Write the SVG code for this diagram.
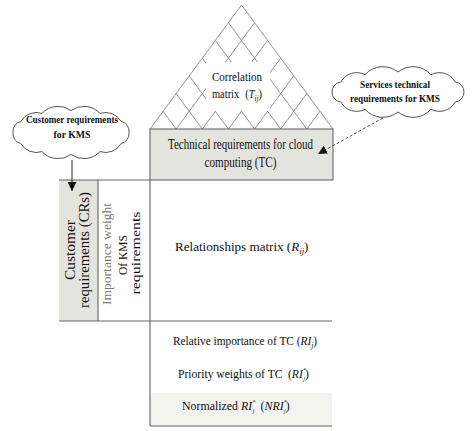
<svg xmlns="http://www.w3.org/2000/svg" width="474" height="431" viewBox="0 0 474 431">
<style>
text{font-family:"Liberation Serif","Times New Roman",serif;fill:#111}
.b{font-weight:bold}
.ln{stroke:#666;stroke-width:1.1;fill:none}
.lat{stroke:#7a7a7a;stroke-width:0.8;fill:none}
.cloud{fill:#fff;stroke:#555;stroke-width:1}
.i{font-style:italic}
</style>
<defs>
<marker id="ah" viewBox="0 0 10 10" refX="10" refY="5" markerWidth="9" markerHeight="9" markerUnits="userSpaceOnUse" orient="auto">
<path d="M0,0 L10,5 L0,10 Z" fill="#111"/>
</marker>
</defs>
<rect width="474" height="431" fill="#fff"/>

<g id="roof">
<path class="lat" d="M150,129 L241.5,5 L333,129"/>
<path class="lat" d="M163.07,111.29 L176.14,129 L254.57,22.71 M176.14,93.57 L202.29,129 L267.64,40.43 M189.21,75.86 L228.43,129 L280.71,58.14 M202.29,58.14 L254.57,129 L293.79,75.86 M215.36,40.43 L280.71,129 L306.86,93.57 M228.43,22.71 L306.86,129 L319.93,111.29"/>
<rect x="206" y="62" width="64" height="49" fill="#fff"/>
<text x="237" y="81" font-size="12" text-anchor="middle" textLength="50" lengthAdjust="spacingAndGlyphs">Correlation</text>
<text transform="translate(212,98) scale(0.87,1)" font-size="12">matrix <tspan dx="4">(</tspan><tspan class="i">T</tspan><tspan class="i" font-size="8" dy="3">ij</tspan><tspan dy="-3">)</tspan></text>
</g>

<g id="tc">
<rect x="150" y="129" width="183" height="51" fill="#e4e4df" stroke="#666" stroke-width="1.1"/>
<text x="240.5" y="149" font-size="14" text-anchor="middle" textLength="145" lengthAdjust="spacingAndGlyphs">Technical requirements for cloud</text>
<text x="240.5" y="167" font-size="14" text-anchor="middle" textLength="72" lengthAdjust="spacingAndGlyphs">computing (TC)</text>
</g>

<g id="crs">
<rect x="59" y="180" width="39" height="141" fill="#e4e4df"/>
<text transform="translate(75,250) rotate(-90)" font-size="14.5" text-anchor="middle" textLength="60" lengthAdjust="spacingAndGlyphs">Customer</text>
<text transform="translate(88.5,250) rotate(-90)" font-size="14.5" text-anchor="middle" textLength="116" lengthAdjust="spacingAndGlyphs">requirements (CRs)</text>
</g>

<g id="weight">
<text transform="translate(110.5,254) rotate(-90)" font-size="13.5" text-anchor="middle" style="fill:#7a7a7a" textLength="102" lengthAdjust="spacingAndGlyphs">Importance weight</text>
<text transform="translate(126.5,255) rotate(-90)" font-size="13.5" text-anchor="middle" textLength="40" lengthAdjust="spacingAndGlyphs">Of KMS</text>
<text transform="translate(139.5,253) rotate(-90)" font-size="13.5" text-anchor="middle" textLength="83" lengthAdjust="spacingAndGlyphs">requirements</text>
</g>

<g id="relmatrix">
<text transform="translate(175,251) scale(0.97,1)" font-size="13.5">Relationships matrix (<tspan class="i">R</tspan><tspan class="i" font-size="9" dy="3">ij</tspan><tspan dy="-3">)</tspan></text>
</g>

<g id="bottom">
<rect x="150" y="393" width="182" height="33" fill="#f3f3f0"/>
<text transform="translate(173,345) scale(0.84,1)" font-size="13.5">Relative importance of TC (<tspan class="i">RI</tspan><tspan class="i" font-size="9" dy="3">j</tspan><tspan dy="-3">)</tspan></text>
<text transform="translate(178,378) scale(0.86,1)" font-size="13.5">Priority weights of TC <tspan dx="3">(</tspan><tspan class="i">RI</tspan><tspan class="i" font-size="7" dy="-6">*</tspan><tspan class="i" font-size="7" dx="-3" dy="9">j</tspan><tspan dy="-3">)</tspan></text>
<text transform="translate(182,410) scale(0.88,1)" font-size="13.5">Normalized <tspan class="i">RI</tspan><tspan class="i" font-size="7" dy="-6">*</tspan><tspan class="i" font-size="7" dx="-3" dy="9">j</tspan><tspan dx="7" dy="-3">(</tspan><tspan class="i">NRI</tspan><tspan class="i" font-size="7" dy="-6">*</tspan><tspan class="i" font-size="7" dx="-3" dy="9">j</tspan><tspan dy="-3">)</tspan></text>
</g>

<g id="grid-lines">
<path class="ln" d="M59,180 H150 M98,180 V321 M150,180 V426 M59,321 H332 M150,426 H332"/>
</g>

<g id="cloud-customer">
<path class="cloud" d="M129,132.5 A10,10 0 0 1 121.2,143.5 A18,18 0 0 1 100,151.6 A22,22 0 0 1 71,154.5 A22,22 0 0 1 42,151.6 A18,18 0 0 1 20.8,143.5 A10,10 0 0 1 13,132.5 A10,10 0 0 1 20.8,121.5 A18,18 0 0 1 42,113.4 A22,22 0 0 1 71,110.5 A22,22 0 0 1 100,113.4 A18,18 0 0 1 121.2,121.5 A10,10 0 0 1 129,132.5 Z"/>
<text class="b" x="72" y="123" font-size="10" text-anchor="middle" textLength="92" lengthAdjust="spacingAndGlyphs">Customer requirements</text>
<text class="b" x="72" y="138" font-size="10" text-anchor="middle" textLength="37" lengthAdjust="spacingAndGlyphs">for KMS</text>
</g>

<g id="cloud-services">
<path class="cloud" d="M464,92 A10,10 0 0 1 455.2,102 A18,18 0 0 1 431,109.3 A24,24 0 0 1 398,112 A24,24 0 0 1 365,109.3 A18,18 0 0 1 340.8,102 A10,10 0 0 1 332,92 A10,10 0 0 1 340.8,82 A18,18 0 0 1 365,74.7 A24,24 0 0 1 398,72 A24,24 0 0 1 431,74.7 A18,18 0 0 1 455.2,82 A10,10 0 0 1 464,92 Z"/>
<text class="b" x="395" y="88" font-size="10" text-anchor="middle" textLength="70" lengthAdjust="spacingAndGlyphs">Services technical</text>
<text class="b" x="395" y="102" font-size="10" text-anchor="middle" textLength="90" lengthAdjust="spacingAndGlyphs">requirements for KMS</text>
</g>

<g id="connectors">
<line x1="72" y1="160" x2="72" y2="191" stroke="#222" stroke-width="1" marker-end="url(#ah)"/>
<line x1="383" y1="118" x2="318" y2="154" stroke="#444" stroke-width="0.9" stroke-dasharray="3,2" marker-end="url(#ah)"/>
</g>
</svg>
